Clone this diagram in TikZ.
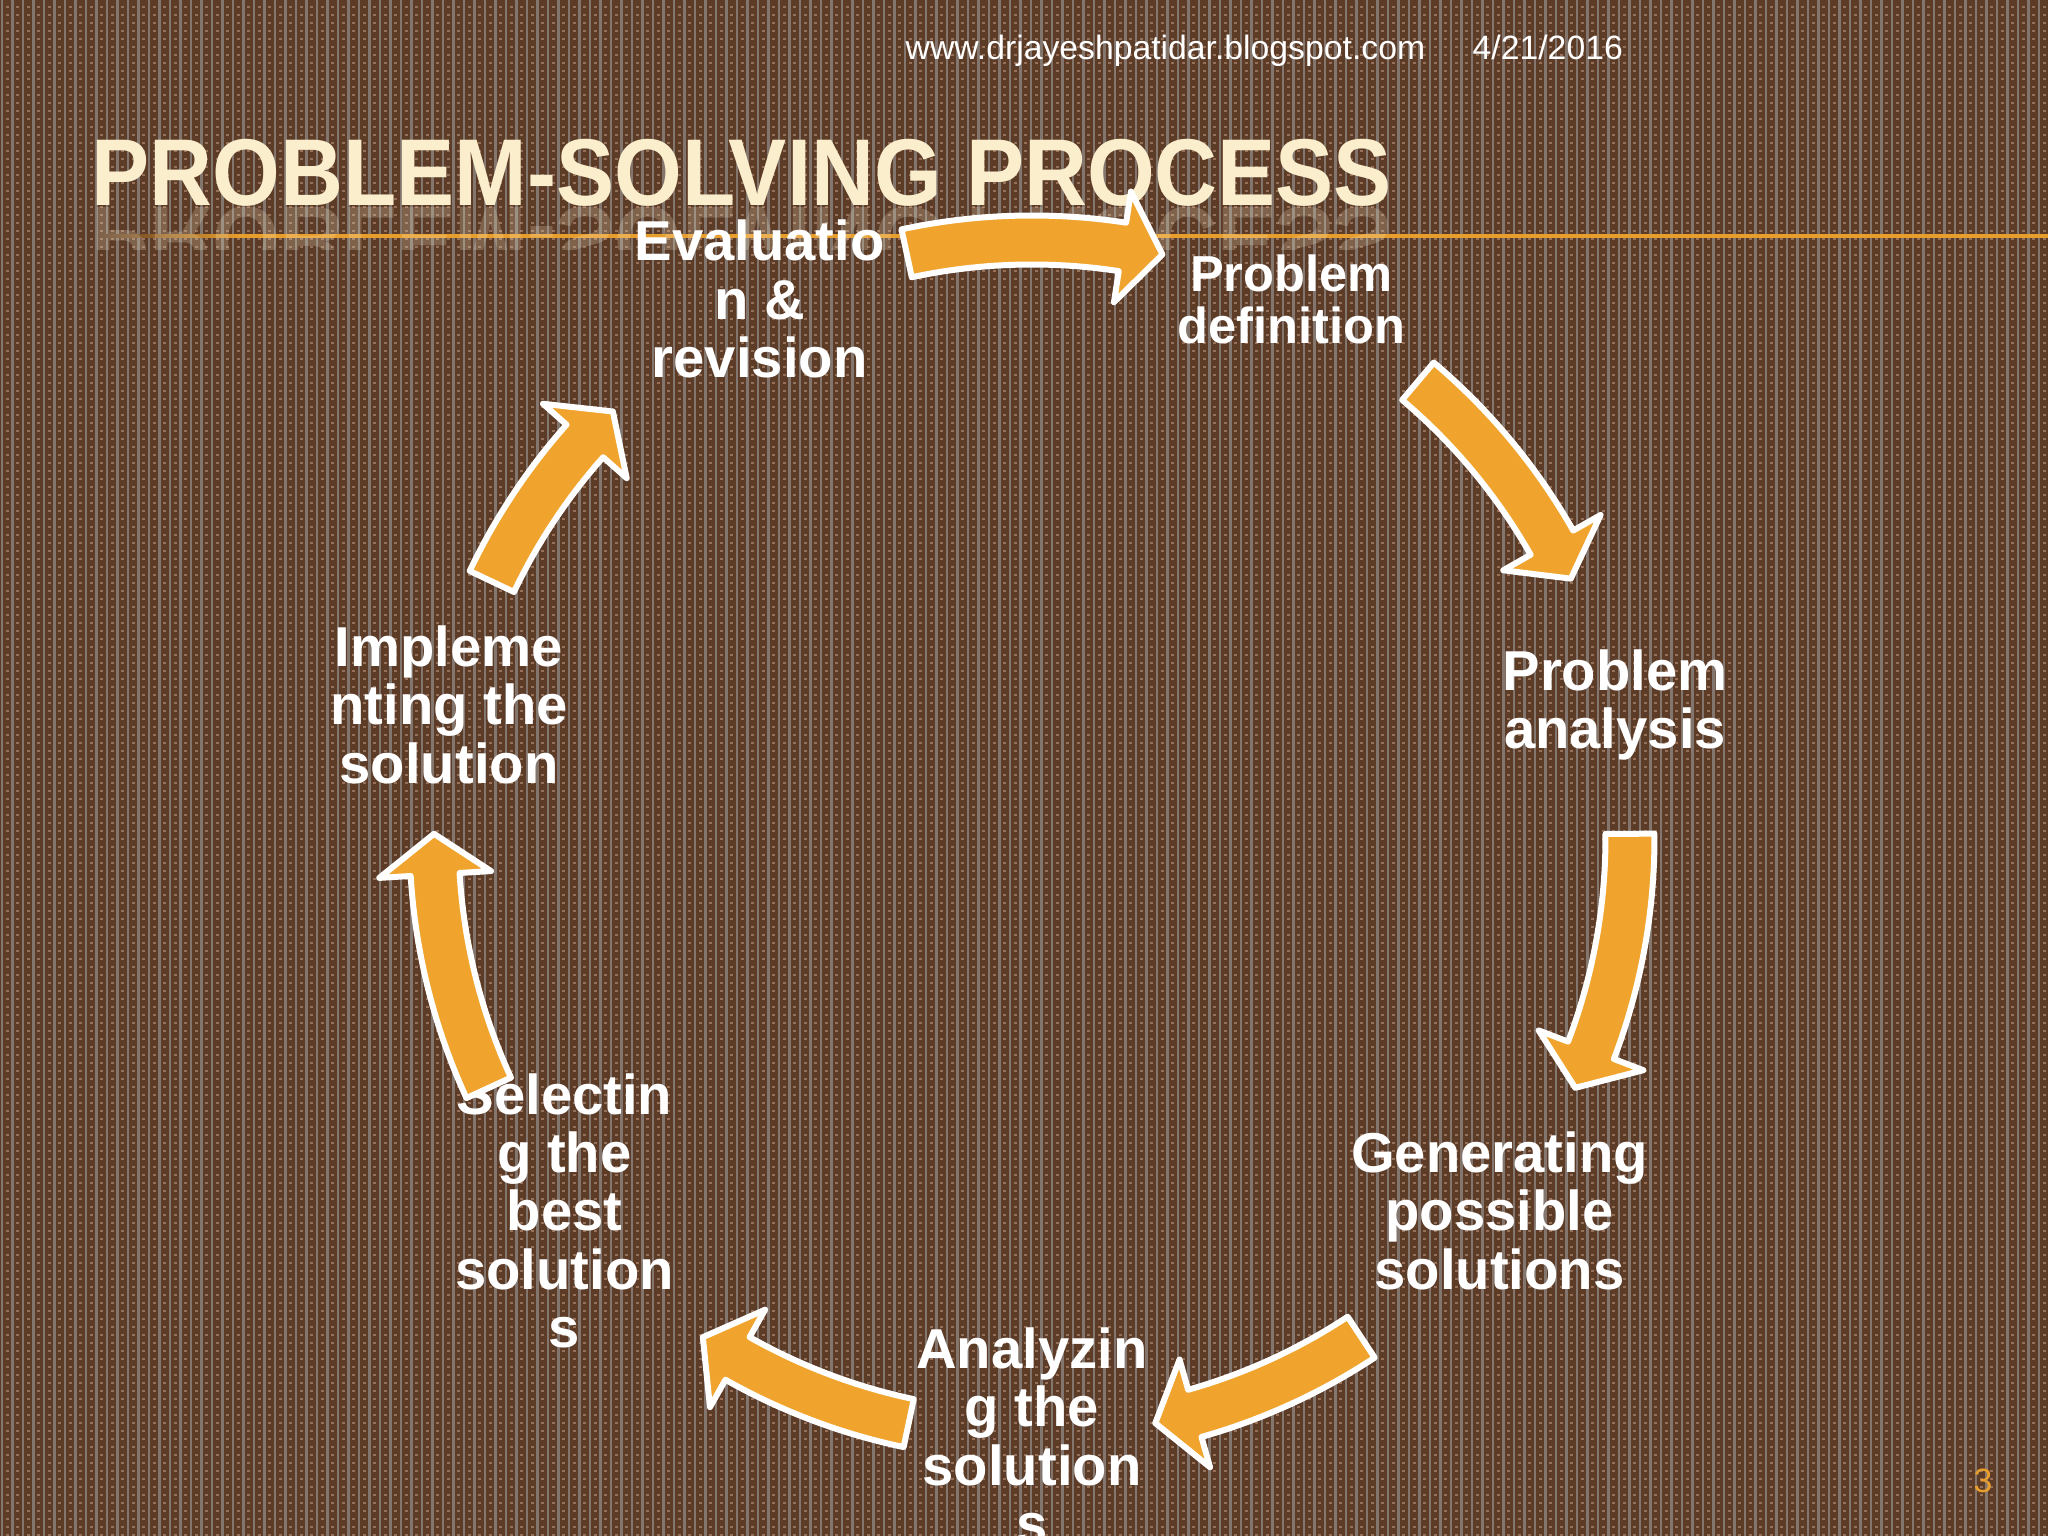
\documentclass[tikz,border=0pt]{standalone}
\usepackage{fontspec}
\setmainfont{Liberation Sans}
\newfontfamily\titlefont[FakeStretch=0.918]{Liberation Sans}
\usepackage{graphicx}
\usepackage{tikz}

\definecolor{bgbrown}{RGB}{92,59,39}
\definecolor{bgline}{RGB}{130,118,110}
\definecolor{bgdash}{RGB}{150,112,88}
\definecolor{arroworange}{RGB}{240,164,46}
\definecolor{titlecream}{RGB}{251,238,204}
\definecolor{ruleorange}{RGB}{232,158,44}

% block arrow on the ring: tail angle, tip angle
\newcommand{\cyclearrow}[2]{%
  \pgfmathsetmacro{\baseang}{#2+3.9}
  \draw[blockarrow] (#1:6.225) arc[start angle=#1, end angle=\baseang, radius=6.225]
    -- (\baseang:6.54) -- (#2:5.98) -- (\baseang:5.42) -- (\baseang:5.735)
    arc[start angle=\baseang, end angle=#1, radius=5.735] -- cycle;
}

\begin{document}
\begin{tikzpicture}[
    steptext/.style={text=white, font=\bfseries\fontsize{16}{16.6}\selectfont, align=center, inner sep=0pt},
    blockarrow/.style={fill=arroworange, draw=white, line width=0.06cm, line join=round}]

    \useasboundingbox (0,0) rectangle (20.48,15.36);
    \clip (0,0) rectangle (20.48,15.36);

    %background
    \fill[bgbrown] (0,0) rectangle (20.48,15.36);
    \foreach \i in {0,...,195}{
        \draw[bgline, line width=0.022cm] ({\i*0.105+0.02},0) -- ({\i*0.105+0.02},15.36);
        \draw[bgdash, line width=0.03cm, dash pattern=on 0.02cm off 0.06cm] ({\i*0.105+0.072},0) -- ({\i*0.105+0.072},15.36);
    }

    %rule
    \shade[left color=bgbrown, right color=ruleorange] (1.0,12.983) rectangle (2.4,13.017);
    \fill[ruleorange] (2.4,12.983) rectangle (20.48,13.017);

    %title and reflection
    \node[anchor=base west, inner sep=0pt, text=titlecream, font=\titlefont\bfseries\fontsize{27}{30}\selectfont] (title) at (0.91,13.30) {PROBLEM-SOLVING PROCESS};
    \begin{scope}
        \clip (0,12.86) rectangle (20.48,13.28);
        \node[anchor=base west, inner sep=0pt, text=titlecream, opacity=0.22, font=\titlefont\bfseries\fontsize{27}{30}\selectfont] (reflect) at (0.91,13.28) {\scalebox{1}[-1]{PROBLEM-SOLVING PROCESS}};
    \end{scope}

    %header
    \node[anchor=base west, inner sep=0pt, text=white, font=\fontsize{9.6}{11}\selectfont] (site) at (9.05,14.76) {www.drjayeshpatidar.blogspot.com};
    \node[anchor=base west, inner sep=0pt, text=white, font=\fontsize{9.6}{11}\selectfont] (date) at (14.72,14.76) {4/21/2016};

    %cycle
    \begin{scope}[shift={(10.32,6.98)}]
        \node[steptext, font=\bfseries\fontsize{14.4}{14.9}\selectfont] (def) at (64.29:5.98) {Problem\\definition};
        \node[steptext] (anal) at (12.86:5.98) {Problem\\analysis};
        \node[steptext] (gen) at (-38.57:5.98) {Generating\\possible\\solutions};
        \node[steptext] (analyz) at (-90:5.98) {Analyzin\\g the\\solution\\s};
        \node[steptext] (sel) at (-141.43:5.98) {Selectin\\g the\\best\\solution\\s};
        \node[steptext] (impl) at (167.14:5.98) {Impleme\\nting the\\solution};
        \node[steptext, xshift=-0.13cm] (eval) at (115.71:5.98) {Evaluatio\\n \&\\revision};

        \foreach \tl/\tp in {102.1/77.4, 49.8/25.7, 0.4/-24.7, -56.6/-78.1, -101.9/-123.4, 204.7/179.6, 154.6/134.5}{
            \cyclearrow{\tl}{\tp}
        }
    \end{scope}

    %page number
    \node[text=ruleorange, inner sep=0pt, font=\fontsize{9.6}{11}\selectfont] (page) at (19.83,0.55) {3};
\end{tikzpicture}
\end{document}
